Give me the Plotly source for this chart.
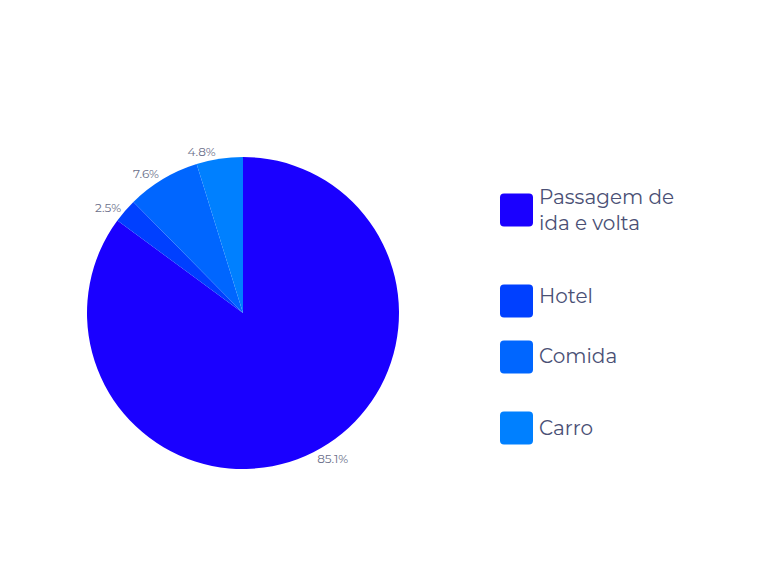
import plotly.graph_objects as go

# Dados
categorias = ['Passagem de<br>ida e volta', 'Hotel', 'Comida', 'Carro']
valores = [85.1, 2.5, 7.6, 4.8]
cores = ['#1a00ff', '#0040ff', '#0066ff', '#0080ff']

fonte = 'Montserrat, Open Sans, sans-serif'
W, H = 768, 576

fig = go.Figure()

fig.add_trace(go.Pie(
    labels=categorias,
    values=valores,
    sort=False,
    direction='clockwise',
    rotation=0,
    marker=dict(colors=cores),
    textinfo='percent',
    textposition='outside',
    textfont=dict(size=12, color='#6b6f8a', family=fonte),
    domain=dict(x=[79 / W, 391 / W], y=[1 - 461 / H, 1 - 149 / H]),
    showlegend=False,
))

# Legenda desenhada à mão (quadrados grandes com cantos arredondados)
legenda_y = [202, 293, 349, 420]  # centros dos quadrados, pixels a partir do topo
texto_y = [202, 288, 348, 420]    # centros dos textos
r = 4
h = 16.5
caminho = (f'M{-h + r},{-h} L{h - r},{-h} Q{h},{-h} {h},{-h + r} '
           f'L{h},{h - r} Q{h},{h} {h - r},{h} L{-h + r},{h} '
           f'Q{-h},{h} {-h},{h - r} L{-h},{-h + r} Q{-h},{-h} {-h + r},{-h} Z')

for nome, cor, ypx, ty in zip(categorias, cores, legenda_y, texto_y):
    fig.add_shape(type='path', xref='paper', yref='paper',
                  xsizemode='pixel', ysizemode='pixel',
                  xanchor=508.5 / W, yanchor=1 - ypx / H,
                  path=caminho, fillcolor=cor, line=dict(width=0))
    fig.add_annotation(x=529 / W, y=1 - ty / H, xref='paper', yref='paper',
                       text=nome, showarrow=False, xanchor='left', yanchor='middle',
                       align='left', font=dict(size=20, color='#4a5075', family=fonte))

fig.update_layout(
    width=W,
    height=H,
    margin=dict(l=0, r=0, t=0, b=0),
    paper_bgcolor='white',
    plot_bgcolor='white',
    font=dict(family=fonte),
)

fig.write_html('out.html')
